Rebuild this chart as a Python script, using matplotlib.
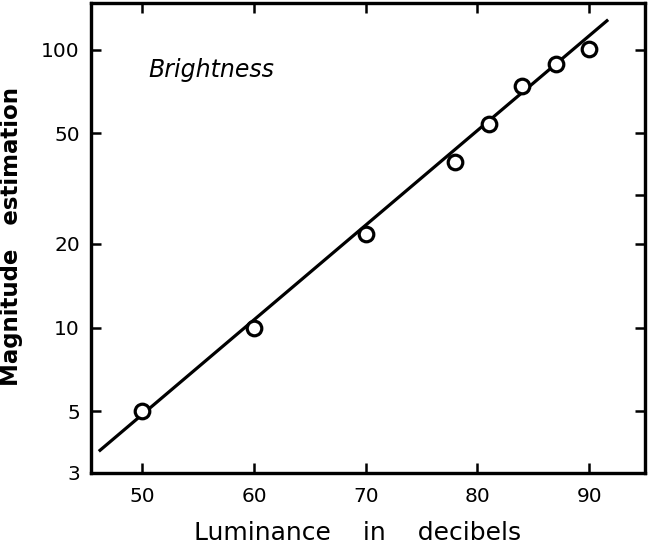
import matplotlib
matplotlib.use("Agg")
import matplotlib.pyplot as plt
from matplotlib.ticker import FixedLocator, NullLocator, FixedFormatter

# Data
luminance_db = [50, 60, 70, 78, 81, 84, 87, 90]
magnitude = [5.0, 10.0, 21.7, 39.4, 54.1, 74.1, 88.7, 100.6]
fit_x = [46.1, 91.7]
fit_y = [3.59, 128.0]
x_ticks = [50, 60, 70, 80, 90]
y_ticks = [3, 5, 10, 20, 50, 100]
y_tick_labels = ["3", "5", "10", "20", "50", "100"]
right_ticks = [5, 10, 20, 30, 50, 100]

plt.rcParams['font.family'] = ['DejaVu Sans']

fig = plt.figure(figsize=(6.5, 5.45), dpi=100)
ax = fig.add_axes([91/650, 1 - 473/545, (645-91)/650, (473-3)/545])

ax.plot(fit_x, fit_y, color='black', lw=2.3, solid_capstyle='butt', zorder=2)
ax.plot(luminance_db, magnitude, 'o', ms=10.5, mfc='white', mec='black', mew=2.3, zorder=3)

ax.set_yscale('log')
ax.set_xlim(45.4, 95.0)
ax.set_ylim(3.0, 147)

ax.xaxis.set_major_locator(FixedLocator(x_ticks))
ax.xaxis.set_minor_locator(NullLocator())
ax.yaxis.set_major_locator(FixedLocator(y_ticks))
ax.yaxis.set_major_formatter(FixedFormatter(y_tick_labels))
ax.yaxis.set_minor_locator(NullLocator())

ax.tick_params(axis='both', which='major', direction='in', length=7, width=1.8,
               labelsize=14.5, top=True, right=False, pad=8)
ax.tick_params(axis='x', pad=10)

# right-side ticks
ax2 = ax.twinx()
ax2.set_yscale('log')
ax2.set_ylim(ax.get_ylim())
ax2.yaxis.set_major_locator(FixedLocator(right_ticks))
ax2.yaxis.set_minor_locator(NullLocator())
ax2.tick_params(axis='y', direction='in', length=7, width=1.8, labelright=False)

for a in (ax, ax2):
    for s in a.spines.values():
        s.set_linewidth(2.3)

ax.text(0.218, 0.857, "Brightness", fontsize=17, style='italic', ha='center', va='center',
        transform=ax.transAxes)

fig.text(358/650, 1 - 533/545, "Luminance    in    decibels", fontsize=18,
         ha='center', va='center')
fig.text(12/650, 1 - 236/545, "Magnitude   estimation", fontsize=16.5, fontweight='bold',
         rotation=90, ha='center', va='center')

fig.savefig("out.png", dpi=100)
